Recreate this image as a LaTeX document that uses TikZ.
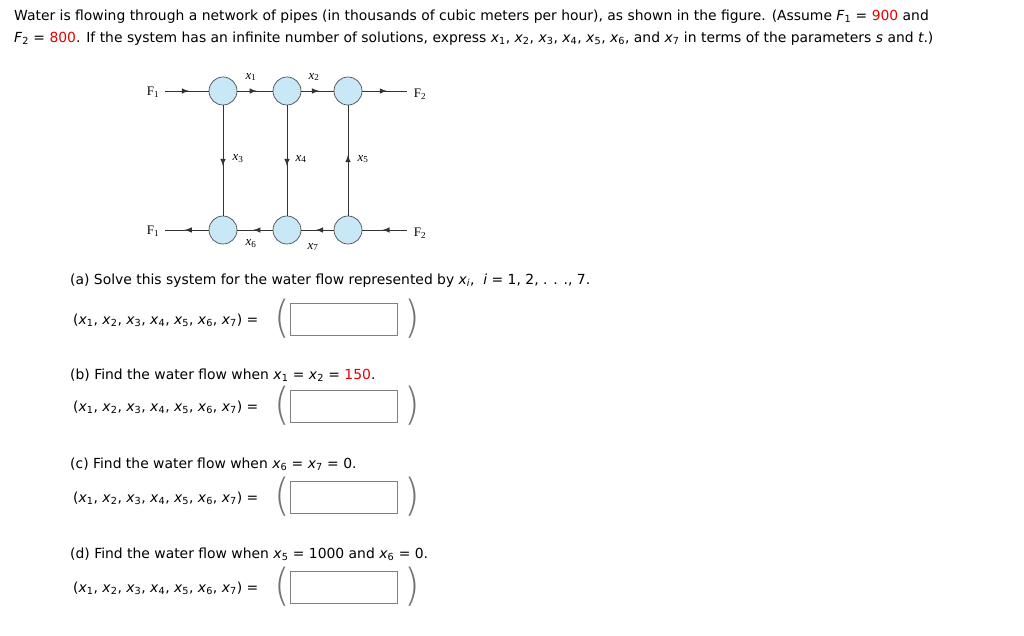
\documentclass[tikz,border=0pt]{standalone}
\usepackage{fontspec}
\setmainfont{DejaVu Sans}
\newfontfamily\serifd{Liberation Serif}
\newfontfamily\parenfont{DejaVu Sans ExtraLight}
\usetikzlibrary{decorations.markings}
\definecolor{nodefill}{RGB}{200,232,248}
\definecolor{redv}{RGB}{230,0,0}
\begin{document}
\begin{tikzpicture}[x=1pt,y=-1pt,
  txt/.style={anchor=base west,inner sep=0pt,font=\fontsize{13.9}{15}\selectfont},
  lab/.style={inner sep=0pt,font=\serifd\fontsize{13}{14}\selectfont\itshape},
  rlab/.style={inner sep=0pt,font=\serifd\fontsize{13}{14}\selectfont},
  junc/.style={circle,draw=black!70,line width=0.7pt,fill=nodefill,minimum size=28pt,inner sep=0pt},
  pipe/.style={draw=black!80,line width=0.9pt,postaction={decorate},decoration={markings,mark=at position 0.55 with {\arrow[scale=1.3]{latex}}}},
  ansbox/.style={draw=black!50,minimum width=107pt,minimum height=32pt,inner sep=0pt},
  paren/.style={inner sep=0pt,font=\parenfont\fontsize{40}{42}\selectfont,text=black!55,yscale=1.1}]
\useasboundingbox (0,0) rectangle (1024,635);
\node[txt] (t1) at (14,20) {Water is flowing through a network of pipes (in thousands of cubic meters per hour), as shown in the figure. (Assume \textit{F}\textsubscript{1} = \textcolor{redv}{900} and};
\node[txt] (t2) at (14,42) {\textit{F}\textsubscript{2} = \textcolor{redv}{800}. If the system has an infinite number of solutions, express \textit{x}\textsubscript{1}, \textit{x}\textsubscript{2}, \textit{x}\textsubscript{3}, \textit{x}\textsubscript{4}, \textit{x}\textsubscript{5}, \textit{x}\textsubscript{6}, and \textit{x}\textsubscript{7} in terms of the parameters \textit{s} and \textit{t}.)};
% network
\node[junc] (a) at (223,91) {};
\node[junc] (b) at (287,91) {};
\node[junc] (c) at (348,91) {};
\node[junc] (d) at (223,230) {};
\node[junc] (e) at (287,230) {};
\node[junc] (f) at (348,230) {};
\node[rlab] (f1t) at (153,92) {F\textsubscript{1}};
\node[rlab] (f2t) at (420,94) {F\textsubscript{2}};
\node[rlab] (f1b) at (153,231) {F\textsubscript{1}};
\node[rlab] (f2b) at (420,233) {F\textsubscript{2}};
\coordinate (p1) at (165,91);
\coordinate (p2) at (407,91);
\coordinate (p3) at (165,230);
\coordinate (p4) at (407,230);
\path[pipe] (p1) -- (a);
\path[pipe] (a) -- (b);
\path[pipe] (b) -- (c);
\path[pipe] (c) -- (p2);
\path[pipe] (a) -- (d);
\path[pipe] (b) -- (e);
\path[pipe] (f) -- (c);
\path[pipe] (p4) -- (f);
\path[pipe] (f) -- (e);
\path[pipe] (e) -- (d);
\path[pipe] (d) -- (p3);
\node[lab] (l1) at (251,77) {x\textsubscript{\upshape 1}};
\node[lab] (l2) at (314,77) {x\textsubscript{\upshape 2}};
\node[lab] (l3) at (238,159) {x\textsubscript{\upshape 3}};
\node[lab] (l4) at (301,159) {x\textsubscript{\upshape 4}};
\node[lab] (l5) at (363,159) {x\textsubscript{\upshape 5}};
\node[lab] (l6) at (251,244) {x\textsubscript{\upshape 6}};
\node[lab] (l7) at (313,247) {x\textsubscript{\upshape 7}};
% questions
\node[txt] (qa) at (70,284) {(a) Solve this system for the water flow represented by \textit{x\textsubscript{i}}, \ \textit{i} = 1, 2, . . ., 7.};
\node[txt] (qb) at (70,379) {(b) Find the water flow when \textit{x}\textsubscript{1} = \textit{x}\textsubscript{2} = \textcolor{redv}{150}.};
\node[txt] (qc) at (70,468) {(c) Find the water flow when \textit{x}\textsubscript{6} = \textit{x}\textsubscript{7} = 0.};
\node[txt] (qd) at (70,558) {(d) Find the water flow when \textit{x}\textsubscript{5} = 1000 and \textit{x}\textsubscript{6} = 0.};
\foreach \n/\y in {A/319,B/406,C/497,D/587}{
  \node[txt] (v\n) at (73,\y+5) {(\textit{x}\textsubscript{1}, \textit{x}\textsubscript{2}, \textit{x}\textsubscript{3}, \textit{x}\textsubscript{4}, \textit{x}\textsubscript{5}, \textit{x}\textsubscript{6}, \textit{x}\textsubscript{7}) =};
  \node[paren] (lp\n) at (282,\y) {(};
  \node[ansbox] (box\n) at (344,\y) {};
  \node[paren] (rp\n) at (412,\y) {)};
}
\end{tikzpicture}
\end{document}
